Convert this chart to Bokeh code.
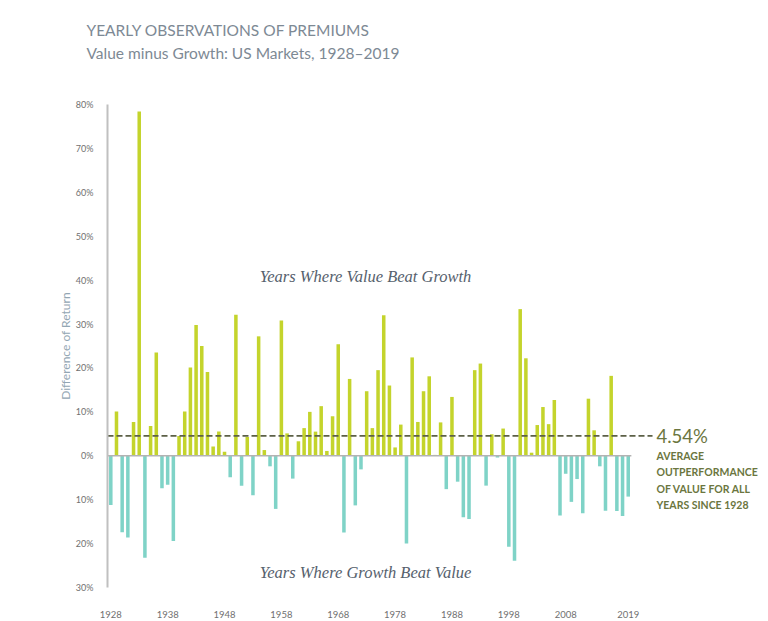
from bokeh.plotting import figure
from bokeh.layouts import column
from bokeh.models import Range1d, FixedTicker, Label, Title, ColumnDataSource
from bokeh.embed import file_html
from bokeh.resources import INLINE

# Value minus growth premium, US markets, percent per calendar year
years = list(range(1928, 2020))
premium = [
    -11.2, 10.1, -17.4, -18.6, 7.7, 78.4, -23.2, 6.8, 23.5, -7.4,      # 1928-1937
    -6.6, -19.4, 4.5, 10.1, 20.1, 29.8, 25.0, 19.1, 2.1, 5.5,          # 1938-1947
    0.9, -4.9, 32.1, -6.8, 4.3, -9.0, 27.2, 1.3, -2.4, -12.1,          # 1948-1957
    30.8, 5.1, -5.2, 3.3, 6.3, 10.0, 5.5, 11.3, 1.1, 9.0,              # 1958-1967
    25.4, -17.5, 17.5, -11.3, -3.1, 14.7, 6.3, 19.5, 32.0, 16.0,       # 1968-1977
    1.9, 7.1, -20.0, 22.4, 7.7, 14.7, 18.1, 0.2, 7.6, -7.6,            # 1978-1987
    13.4, -5.9, -14.0, -14.4, 19.5, 21.0, -6.8, 4.9, -0.4, 6.2,        # 1988-1997
    -20.7, -23.9, 33.4, 22.2, 0.7, 7.0, 11.1, 7.2, 12.7, -13.6,        # 1998-2007
    -4.1, -10.5, -5.3, -13.1, 13.0, 5.8, -2.4, -12.5, 18.2, -12.6,     # 2008-2017
    -13.7, -9.3,                                                       # 2018-2019
]
avg_premium = 4.54

y_ticks = [-30, -20, -10, 0, 10, 20, 30, 40, 50, 60, 70, 80]
y_tick_labels = ["30%", "20%", "10%", "0%", "10%", "20%", "30%", "40%", "50%", "60%", "70%", "80%"]
x_ticks = [1928, 1938, 1948, 1958, 1968, 1978, 1988, 1998, 2008, 2019]
x_tick_labels = ["1928", "1938", "1948", "1958", "1968", "1978", "1988", "1998", "2008", "2019"]

GREEN = "#c4d42c"
TEAL = "#7fd3c7"
OLIVE = "#6b7640"
SLATE = "#7d8994"
SANS = "Lato"

W, H = 768, 621
HEADER_H = 96                      # heading strip above the chart
CHART_H = H - HEADER_H
BORDER_LEFT, BORDER_RIGHT, BORDER_TOP, BORDER_BOTTOM = 107, 3, 8, 34
FRAME_BOTTOM = H - BORDER_BOTTOM   # page pixel row of the chart frame's bottom

# the frame runs on past the last year to hold the average note at the right
X_START, X_END = 1927.42, 2043.14
AVG_LINE_END = 2023.27

# ---- heading strip: a two-line title that hangs from the top edge ----
head = figure(width=W, height=HEADER_H, x_range=Range1d(0, 1), y_range=Range1d(0, 1),
              x_axis_type=None, y_axis_type=None,
              min_border_left=0, min_border_right=0, min_border_top=0, min_border_bottom=0,
              output_backend="svg", toolbar_location=None,
              background_fill_color="white", border_fill_color="white")
head.outline_line_color = None
head.grid.visible = False
head.add_layout(Title(text="YEARLY OBSERVATIONS OF PREMIUMS\nValue minus Growth: US Markets, 1928\u20132019",
                      align="left", offset=-21, standoff=41, vertical_align="top",
                      text_font=SANS, text_font_size="15.5px", text_line_height=1.3,
                      text_font_style="normal", text_color=SLATE), "above")

# ---- bar chart ----
src = ColumnDataSource(dict(
    year=years,
    premium=premium,
    color=[GREEN if v >= 0 else TEAL for v in premium],
))

p = figure(
    width=W, height=CHART_H,
    x_range=Range1d(X_START, X_END),
    y_range=Range1d(-30, 80),
    min_border_left=BORDER_LEFT, min_border_right=BORDER_RIGHT,
    min_border_top=BORDER_TOP, min_border_bottom=BORDER_BOTTOM,
    output_backend="svg", toolbar_location=None,
    background_fill_color="white", border_fill_color="white",
)
p.outline_line_color = None
p.grid.visible = False

p.vbar(x="year", top="premium", bottom=0, width=0.62,
       fill_color="color", line_color=None, source=src)

# baseline under the bars, from the axis to the last year
p.segment(x0=[X_START], y0=[0], x1=[years[-1] + 0.55], y1=[0],
          line_color="#b3b3b3", line_width=1.5)

# long-run average premium
p.segment(x0=[X_START], y0=[avg_premium], x1=[AVG_LINE_END], y1=[avg_premium],
          line_color="#5c6047", line_width=1.6, line_dash="6 3")

# y axis
ya = p.yaxis[0]
ya.ticker = FixedTicker(ticks=y_ticks)
ya.major_label_overrides = dict(zip(y_ticks, y_tick_labels))
ya.axis_line_color = "#c0c0c0"
ya.axis_line_width = 2
ya.major_tick_line_color = None
ya.minor_tick_line_color = None
ya.major_label_text_font = SANS
ya.major_label_text_font_size = "9px"
ya.major_label_text_color = "#707070"
ya.major_label_standoff = 8
ya.axis_label = "Difference of Return"
ya.axis_label_text_font = SANS
ya.axis_label_text_font_style = "normal"
ya.axis_label_text_font_size = "12px"
ya.axis_label_text_color = "#93a6b3"
ya.axis_label_standoff = 0

# x axis
xa = p.xaxis[0]
xa.ticker = FixedTicker(ticks=x_ticks)
xa.major_label_overrides = dict(zip(x_ticks, x_tick_labels))
xa.axis_line_color = None
xa.major_tick_line_color = None
xa.minor_tick_line_color = None
xa.major_label_text_font = SANS
xa.major_label_text_font_size = "9.5px"
xa.major_label_text_color = "#707070"
xa.major_label_standoff = 17


def add_text(text, left, top, size, color, font=SANS, style="normal", align="left"):
    """Place a text block by its top edge, in page pixels from the top-left.

    Screen units of a Label are measured from the frame's bottom-left corner."""
    p.add_layout(Label(x=left - BORDER_LEFT, y=FRAME_BOTTOM - top,
                       x_units="screen", y_units="screen",
                       text=text, text_font=font, text_font_size=size,
                       text_font_style=style, text_color=color,
                       text_align=align, text_baseline="top"))


add_text("Years Where Value Beat Growth", 365, 266, "16.5px", "#56616d",
         font="Liberation Serif", style="italic", align="center")
add_text("Years Where Growth Beat Value", 365, 562, "16.5px", "#56616d",
         font="Liberation Serif", style="italic", align="center")

add_text("4.54%", 656, 424, "18.5px", OLIVE)
for i, line in enumerate(["AVERAGE", "OUTPERFORMANCE", "OF VALUE FOR ALL", "YEARS SINCE 1928"]):
    add_text(line, 656, 449 + i * 16.6, "10.5px", OLIVE, style="bold")

page = column(head, p, spacing=0)
open("out.html", "w").write(file_html(page, INLINE))
